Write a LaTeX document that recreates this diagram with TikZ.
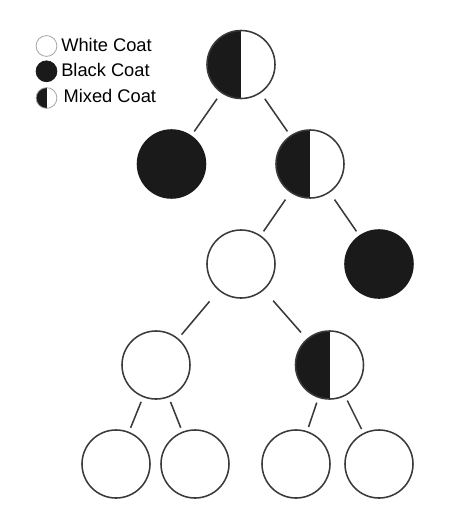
\documentclass[tikz,border=0pt]{standalone}
\usepackage{fontspec}
\setmainfont{Liberation Sans}
\usetikzlibrary{calc}
\definecolor{coatBlack}{HTML}{1A1A1A}
\definecolor{edgeGray}{HTML}{3A3A3A}
\definecolor{legendGray}{HTML}{A8A8A8}

\begin{document}
\begin{tikzpicture}[x=0.025cm,y=-0.025cm,
  coat/.style={circle,draw=edgeGray,line width=1.1pt,minimum size=1.7cm,inner sep=0pt},
  whitecoat/.style={coat,fill=white},
  blackcoat/.style={coat,fill=coatBlack,draw=coatBlack},
  mixedcoat/.style={coat,fill=white,path picture={\fill[coatBlack] (path picture bounding box.south west) rectangle (path picture bounding box.north);}},
  key/.style={circle,draw=legendGray,line width=0.6pt,minimum size=0.52cm,inner sep=0pt},
  keytext/.style={anchor=base west,inner sep=0pt,font=\fontsize{13}{15}\selectfont},
  link/.style={line width=1.1pt,draw=edgeGray,shorten <=5pt,shorten >=3.5pt}]
\useasboundingbox (0,0) rectangle (450,527);
% legend
\node[key,fill=white] (kw) at (46.5,46) {};
\node[key,fill=coatBlack,draw=coatBlack] (kb) at (46.5,71.3) {};
\node[key,fill=white,path picture={\fill[coatBlack] (path picture bounding box.south west) rectangle (path picture bounding box.north);}] (km) at (46.5,98) {};
\node[keytext] (tw) at (61,51.7) {White Coat};
\node[keytext] (tb) at (61,76.7) {Black Coat};
\node[keytext] (tm) at (63.3,102.3) {Mixed Coat};
% tree
\node[mixedcoat] (root) at (241,64.5) {};
\node[blackcoat] (b1) at (171.5,164) {};
\node[mixedcoat] (m1) at (310,164) {};
\node[whitecoat] (w1) at (241,264) {};
\node[blackcoat] (b2) at (379,264) {};
\node[whitecoat] (w2) at (156,365) {};
\node[mixedcoat] (m2) at (329.5,365) {};
\node[whitecoat] (l1) at (116,464) {};
\node[whitecoat] (l2) at (195,464) {};
\node[whitecoat] (l3) at (296,464) {};
\node[whitecoat] (l4) at (379,464) {};
% connectors
\draw[link] (root) -- (b1);
\draw[link] (root) -- (m1);
\draw[link,shorten <=6pt] (m1) -- (w1);
\draw[link,shorten <=6pt] (m1) -- (b2);
\draw[link,shorten <=10pt] (w1) -- (w2);
\draw[link,shorten <=10pt,shorten >=6pt] (w1) -- (m2);
\draw[link,shorten <=3.5pt,shorten >=3pt] (w2) -- (l1);
\draw[link,shorten <=3.5pt,shorten >=3pt] (w2) -- (l2);
\draw[link,shorten <=3.5pt,shorten >=3pt] (m2) -- (l3);
\draw[link,shorten <=3.5pt,shorten >=3pt] (m2) -- (l4);
\end{tikzpicture}
\end{document}
